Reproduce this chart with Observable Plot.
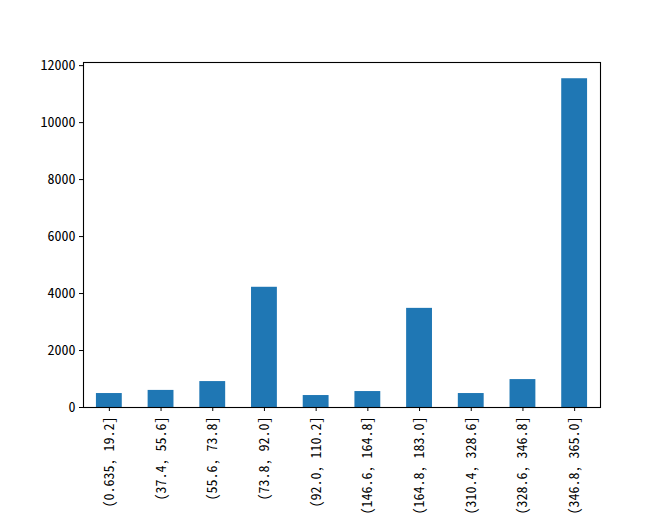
<!DOCTYPE html>
<html>
<head>
<meta charset="utf-8">
<script src="https://cdn.jsdelivr.net/npm/d3@7"></script>
<script src="https://cdn.jsdelivr.net/npm/@observablehq/plot@0.6"></script>
<style>
  html, body { margin: 0; padding: 0; background: white; }
  svg text { font-feature-settings: "hwid" 1; }
</style>
</head>
<body>
<div id="chart"></div>
<script>
const categories = ["(0.635, 19.2]", "(37.4, 55.6]", "(55.6, 73.8]", "(73.8, 92.0]", "(92.0, 110.2]",
  "(146.6, 164.8]", "(164.8, 183.0]", "(310.4, 328.6]", "(328.6, 346.8]", "(346.8, 365.0]"];
const counts = [490, 600, 910, 4220, 420, 560, 3480, 490, 980, 11540];
const yTicks = [0, 2000, 4000, 6000, 8000, 10000, 12000];

const data = categories.map((c, i) => ({cat: c, count: counts[i]}));

const chart = Plot.plot({
  width: 667,
  height: 519,
  marginLeft: 83,
  marginRight: 67,
  marginTop: 62,
  marginBottom: 112,
  style: {fontFamily: "'Noto Sans CJK JP', sans-serif", fontSize: "14px", color: "black", background: "white"},
  x: {domain: categories, paddingInner: 0.5, paddingOuter: 0.25, round: false, label: null},
  y: {domain: [0, 12110], label: null},
  marks: [
    Plot.barY(data, {x: "cat", y: "count", fill: "#1f77b4"}),
    Plot.frame({stroke: "black", strokeWidth: 1.1}),
    Plot.axisY({ticks: yTicks, tickSize: 4, tickPadding: 4, tickFormat: d => String(d), label: null}),
    Plot.axisX({tickRotate: -90, tickSize: 4, tickPadding: 5, label: null})
  ]
});
document.getElementById("chart").appendChild(chart);
</script>
</body>
</html>
